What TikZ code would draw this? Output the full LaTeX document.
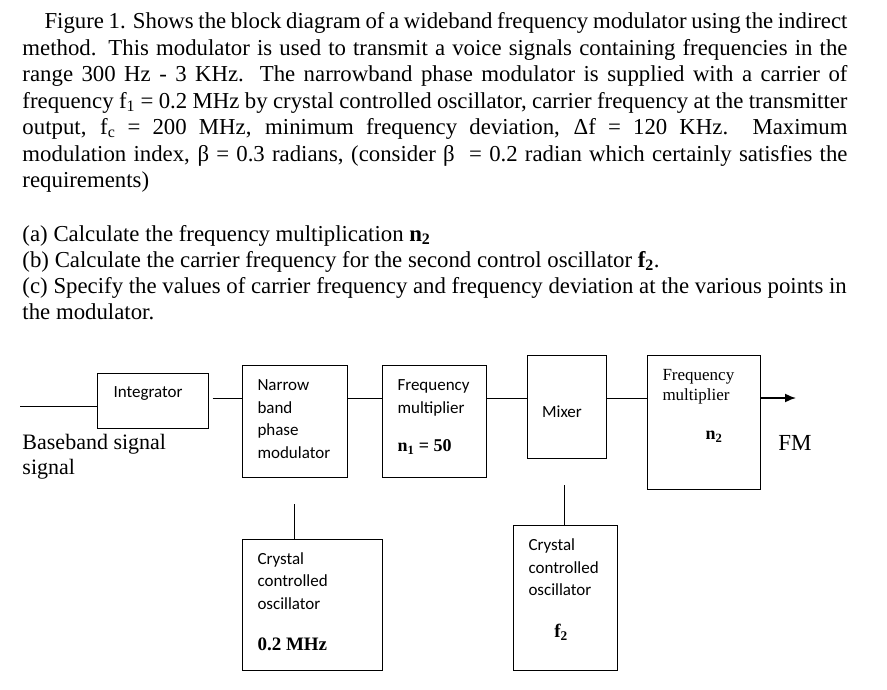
\documentclass[tikz,border=0pt]{standalone}
\usepackage{fontspec}
\setmainfont{Liberation Serif}
\newfontfamily\blkfont{Carlito}
\usetikzlibrary{arrows.meta}

\begin{document}
\begin{tikzpicture}[x=1pt, y=-1pt, line width=1pt,
  blk/.style={draw, inner sep=0pt},
  blktext/.style={font=\blkfont\fontsize{17}{22.5}\selectfont, align=left, anchor=north west, inner sep=0pt},
  sertext/.style={font=\fontsize{22}{25}\selectfont, align=left, anchor=north west, inner sep=0pt},
  para/.style={font=\fontsize{22.8}{26.5}\selectfont, text width=825pt, align=justify, anchor=north west, inner sep=0pt},
  tasks/.style={font=\fontsize{22.8}{26}\selectfont, align=left, anchor=north west, inner sep=0pt}]
        \useasboundingbox (0,0) rectangle (887,690);

        % question text
        \node[para] (intro) at (22,12) {\hspace*{22pt}Figure 1. Shows the block diagram of a wideband frequency modulator using the indirect\linebreak
          method. This modulator is used to transmit a voice signals containing frequencies in the\linebreak
          range 300 Hz - 3 KHz. The narrowband phase modulator is supplied with a carrier of\linebreak
          frequency f\textsubscript{1} = 0.2 MHz by crystal controlled oscillator, carrier frequency at the transmitter\linebreak
          output, f\textsubscript{c} = 200 MHz, minimum frequency deviation, Δf = 120 KHz.~~Maximum\linebreak
          modulation index, β = 0.3 radians, (consider β~~= 0.2 radian which certainly satisfies the\linebreak
          requirements)};
        \node[tasks] (questions) at (22,225) {(a) Calculate the frequency multiplication \textbf{n\textsubscript{2}}\\
          (b) Calculate the carrier frequency for the second control oscillator \textbf{f\textsubscript{2}}.\\
          (c) Specify the values of carrier frequency and frequency deviation at the various points in\\
          the modulator.};

        % blocks
        \node[blk, minimum width=111pt, minimum height=55pt] (integ) at (152.5,400.5) {};
        \node[blk, minimum width=105pt, minimum height=112pt] (nbpm) at (294.5,421) {};
        \node[blk, minimum width=104pt, minimum height=112pt] (mult1) at (434,421) {};
        \node[blk, minimum width=79pt, minimum height=103pt] (mixer) at (566.5,406.5) {};
        \node[blk, minimum width=113pt, minimum height=134pt] (mult2) at (703.5,422) {};
        \node[blk, minimum width=140pt, minimum height=131pt] (xtal1) at (312,604.5) {};
        \node[blk, minimum width=104pt, minimum height=145pt] (xtal2) at (565,597.5) {};

        % block texts
        \node[blktext] (integ-t) at (113,386) {Integrator};
        \node[blktext] (nbpm-t) at (257,379.5) {Narrow\\band\\phase\\modulator};
        \node[blktext] (mult1-t) at (397,379.5) {Frequency\\multiplier};
        \node[sertext, font=\bfseries\fontsize{18}{20}\selectfont] (n1) at (397,439.5) {n\textsubscript{1} = 50};
        \node[blktext, anchor=center] (mixer-t) at (562,412) {Mixer};
        \node[blktext, font=\fontsize{17}{20}\selectfont] (mult2-t) at (662,369) {Frequency\\multiplier};
        \node[sertext, anchor=center, font=\bfseries\fontsize{18}{20}\selectfont] (n2) at (714,437) {n\textsubscript{2}};
        \node[blktext] (xtal1-t) at (257,552) {Crystal\\controlled\\oscillator};
        \node[sertext, font=\bfseries\fontsize{19}{20}\selectfont] (f1) at (257,637) {0.2 MHz};
        \node[blktext] (xtal2-t) at (528,538.5) {Crystal\\controlled\\oscillator};
        \node[sertext, anchor=center, font=\bfseries\fontsize{19}{20}\selectfont] (f2) at (561,632) {f\textsubscript{2}};
        \node[sertext] (bb) at (22,433.5) {Baseband signal\\signal};
        \node[sertext, anchor=center, font=\fontsize{23}{25}\selectfont] (fm) at (795,443) {FM};

        % connectors
        \coordinate (in) at (20,406);
        \coordinate (bus) at (0,398);
        \coordinate (out) at (796,398);
        \coordinate (t1) at (294,504);
        \coordinate (t2) at (564,485);
        \draw (in) -- (in -| integ.west);
        \draw ([xshift=4pt]integ.east |- bus) -- (nbpm.west |- bus);
        \draw (nbpm.east |- bus) -- (mult1.west |- bus);
        \draw (mult1.east |- bus) -- (mixer.west |- bus);
        \draw (mixer.east |- bus) -- (mult2.west |- bus);
        \draw[line width=1.6pt, -{Latex[length=11pt, width=9pt]}] (mult2.east |- bus) -- (out);
        \draw (t1) -- (t1 |- xtal1.north);
        \draw (t2) -- (t2 |- xtal2.north);
\end{tikzpicture}
\end{document}
